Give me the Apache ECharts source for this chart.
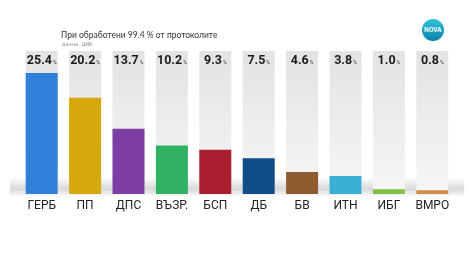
<!DOCTYPE html>
<html><head><meta charset="utf-8">
<script src="https://cdn.jsdelivr.net/npm/echarts@6/dist/echarts.min.js"></script>
<style>html,body{margin:0;padding:0;background:#fff}#c{width:474px;height:266px}</style>
</head><body><div id="c"></div>
<script>
const categories = ['ГЕРБ','ПП','ДПС','ВЪЗР.','БСП','ДБ','БВ','ИТН','ИБГ','ВМРО'];
const values = [25.4, 20.2, 13.7, 10.2, 9.3, 7.5, 4.6, 3.8, 1.0, 0.8];
const colors = ['#2f80d8','#d6a80c','#7d3fa3','#2fb263','#a91f2f','#0f4d88','#8f5b31','#3bafd3','#7dc244','#d08b4b'];
const yMax = 30;
const titleText = 'При обработени 99.4 % от протоколите';
const subText = 'данни, ЦИК';

const chart = echarts.init(document.getElementById('c'));
const cond = 'Roboto,"Noto Sans",sans-serif';
chart.setOption({
  animation: false,
  backgroundColor: '#fff',
  title: [
    {text: titleText, left: 56, top: 26, textStyle: {fontSize: 8.5, fontWeight: 'normal', color: '#333', fontFamily: 'Lato,"DejaVu Sans",sans-serif'}},
    {text: subText, left: 57, top: 37, textStyle: {fontSize: 5, fontWeight: 'normal', color: '#888', fontFamily: '"DejaVu Sans",sans-serif'}}
  ],
  graphic: [
    {type: 'rect', z: -1, shape: {x: 10, y: 177, width: 454, height: 19},
      style: {fill: new echarts.graphic.LinearGradient(0,0,0,1,[{offset:0,color:'rgba(0,0,0,0)'},{offset:0.65,color:'rgba(0,0,0,0.14)'},{offset:1,color:'rgba(0,0,0,0.02)'}]),
      shadowBlur: 12, shadowColor: 'rgba(0,0,0,0.1)'}},
    {type: 'circle', shape: {cx: 433, cy: 30, r: 11}, style: {fill: new echarts.graphic.LinearGradient(0,0,0,1,[{offset:0,color:'#31c6dc'},{offset:1,color:'#0a7fa8'}])}},
    {type: 'text', style: {x: 433, y: 30, text: 'NOVA', fill: '#fff', fontSize: 6.5, fontWeight: 'bold', align: 'center', verticalAlign: 'middle', fontFamily: cond}}
  ],
  grid: {left: 20, right: 20, top: 51, bottom: 72},
  xAxis: {
    type: 'category', data: categories,
    axisLine: {show: false}, axisTick: {show: false},
    axisLabel: {interval: 0, color: '#222', fontSize: 12, fontFamily: cond, margin: 6}
  },
  yAxis: {type: 'value', min: 0, max: yMax, show: false, splitLine: {show: false}},
  series: [
    {
      type: 'bar', barWidth: 32,
      data: values.map((v, i) => ({value: v, itemStyle: {color: colors[i]}})),
      showBackground: true,
      backgroundStyle: {color: new echarts.graphic.LinearGradient(0,0,0,1,[{offset:0,color:'#e3e3e3'},{offset:1,color:'#f6f6f6'}])},
      z: 3
    },
    {
      type: 'bar', barWidth: 32, barGap: '-100%', silent: true,
      data: values.map(() => yMax),
      itemStyle: {color: 'rgba(0,0,0,0)'},
      z: 4,
      label: {
        show: true, position: 'insideTop', distance: 3,
        formatter: p => '{a|' + values[p.dataIndex].toFixed(1) + '}{b|%}',
        rich: {
          a: {fontSize: 12.5, fontWeight: 'bold', color: '#1a1a1a', fontFamily: cond},
          b: {fontSize: 5, color: '#333', fontFamily: cond, padding: [4,0,0,1]}
        }
      }
    }
  ]
});
</script></body></html>
